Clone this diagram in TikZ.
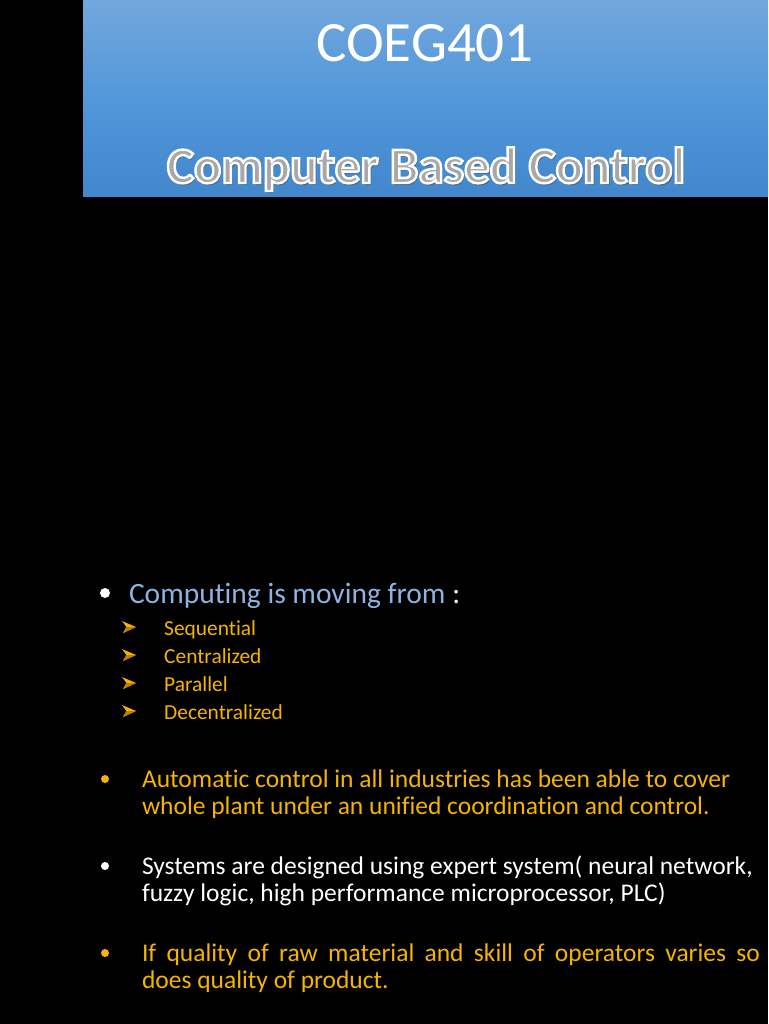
\documentclass[tikz,border=0pt]{standalone}
\usepackage{fontspec}
\setmainfont{Carlito}[Ligatures=NoCommon]
\definecolor{hdtop}{RGB}{114,167,221}
\definecolor{hdmid}{RGB}{82,151,218}
\definecolor{hdbot}{RGB}{66,134,204}
\definecolor{ltblue}{RGB}{141,179,226}
\definecolor{gold}{RGB}{245,180,0}
\definecolor{golddk}{RGB}{190,130,0}
\definecolor{titlegray}{RGB}{168,168,168}
\tikzset{
  txt/.style={inner sep=0pt, outer sep=0pt, anchor=base west, font=\fontsize{25.5}{27}\selectfont},
  subtxt/.style={inner sep=0pt, anchor=base west, text=gold, font=\fontsize{21.4}{24}\selectfont},
  dot/.style={circle, inner sep=0pt, minimum size=#1},
  titlefont/.style={inner sep=0pt, anchor=base, font=\fontsize{51}{56}\selectfont\bfseries},
}
\newcommand{\outlinedtext}[1]{\special{pdf:literal 2 Tr 1 1 1 RG 2.4 w}#1\special{pdf:literal 0 Tr}}
\newcommand{\subarrow}[2]{%
  \fill[gold] (#1-6,#2-6) -- (#1+8,#2) -- (#1-5,#2+6) -- (#1-1.5,#2) -- cycle;
  \fill[golddk] (#1-1.5,#2) -- (#1+8,#2) -- (#1-5,#2+6) -- cycle;
}
\begin{document}
\begin{tikzpicture}[x=1pt,y=-1pt]
\useasboundingbox (0,0) rectangle (768,1024);
\fill[black] (0,0) rectangle (768,1024);
% header
\shade[top color=hdtop, bottom color=hdbot, middle color=hdmid] (83,0) rectangle (768,197);
\node[inner sep=0pt, anchor=base, text=white, font=\fontsize{57}{60}\selectfont] (code) at (425,62) {COEG401};
% title with shadow and outline
\node[titlefont, text=black!70, opacity=0.55] (tshadow) at (428,186) {Computer Based Control};
\node[titlefont, text=titlegray] (title) at (426,183) {\outlinedtext{Computer Based Control}};
% first bullet
\node[dot=10pt, fill=white] (b1) at (105,593) {};
\node[txt, text=ltblue, font=\fontsize{29.5}{32}\selectfont] (l1) at (129,603) {Computing is moving from \textcolor{white}{:}};
\subarrow{128}{627}
\node[subtxt] (s1) at (164,635) {Sequential};
\subarrow{128}{655}
\node[subtxt] (s2) at (164,663) {Centralized};
\subarrow{128}{683}
\node[subtxt] (s3) at (164,691) {Parallel};
\subarrow{128}{711}
\node[subtxt] (s4) at (164,719) {Decentralized};
% paragraphs
\node[dot=8pt, fill=gold] (b2) at (105,779) {};
\node[txt, text=gold, align=left] (p1) at (142,814) {Automatic control in all industries has been able to cover\\whole plant under an unified coordination and control.};
\node[dot=8pt, fill=white] (b3) at (105,866) {};
\node[txt, text=white, align=left] (p2) at (142,901) {Systems are designed using expert system( neural network,\\fuzzy logic, high performance microprocessor, PLC)};
\node[dot=8pt, fill=gold] (b4) at (105,953) {};
\node[txt, text=gold, align=left] (p3) at (142,988) {\makebox[618pt][s]{If quality of raw material and skill of operators varies so}\\does quality of product.};
\end{tikzpicture}
\end{document}
